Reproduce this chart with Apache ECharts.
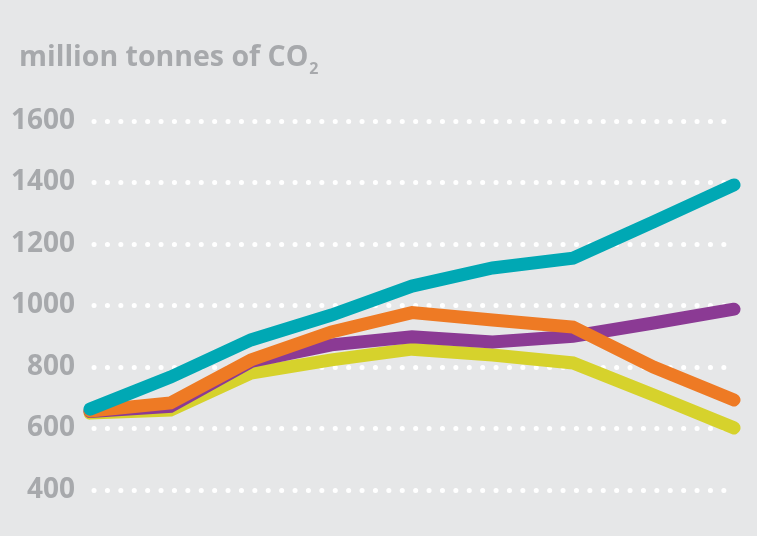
<!DOCTYPE html>
<html><head><meta charset="utf-8">
<script src="https://cdn.jsdelivr.net/npm/echarts@6/dist/echarts.min.js"></script>
<style>html,body{margin:0;padding:0;background:#e6e7e8;}#c{width:757px;height:536px;}</style>
</head><body><div id="c"></div>
<script>
const categories = ['1','2','3','4','5','6','7','8','9'];
const yTicks = [400, 600, 800, 1000, 1200, 1400, 1600];
const yellowSeries = [650, 660, 780, 823, 858, 839, 813, 709, 602];
const purpleSeries = [655, 672, 818, 872, 898, 881, 900, 943, 988];
const orangeSeries = [657, 683, 823, 914, 977, 953, 930, 800, 693];
const tealSeries = [663, 767, 888, 969, 1063, 1122, 1154, 1272, 1392];

const chart = echarts.init(document.getElementById('c'));
function line(data, color){
  return {type:'line', data:data, symbol:'none', smooth:false,
    lineStyle:{color:color, width:13, cap:'round', join:'miter'}};
}
chart.setOption({
  backgroundColor:'#e6e7e8',
  animation:false,
  title:{
    text:'million tonnes of CO{sub|2}',
    left:14, top:34,
    textStyle:{fontFamily:'Open Sans', fontWeight:'bold', fontSize:28.5, color:'#a7a9ac',
      rich:{sub:{fontFamily:'Open Sans', fontWeight:'bold', fontSize:16, color:'#a7a9ac', padding:[22,0,0,1]}}}
  },
  grid:{left:90, right:23, top:121, bottom:46},
  xAxis:{type:'category', data:categories, boundaryGap:false, show:false},
  yAxis:{type:'value', min:yTicks[0], max:yTicks[yTicks.length-1], interval:200,
    axisLine:{show:false}, axisTick:{show:false},
    axisLabel:{margin:15, fontFamily:'Open Sans', fontWeight:'bold', fontSize:28, color:'#a7a9ac',
      formatter:function(v){return String(v);}},
    splitLine:{show:true, lineStyle:{color:'#ffffff', width:5, type:[0.1,13.3], cap:'round', dashOffset:-4}}
  },
  series:[
    line(yellowSeries,'#d6d22c'),
    line(purpleSeries,'#8b3a94'),
    line(orangeSeries,'#ee7a24'),
    line(tealSeries,'#00a8b4')
  ]
});
</script></body></html>
